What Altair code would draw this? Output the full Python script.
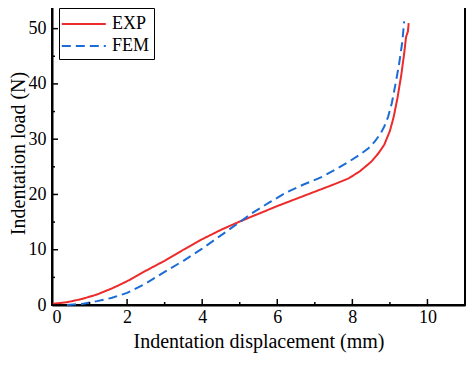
import altair as alt
import pandas as pd

# ---- data ----
exp_x = [0.0, 0.4, 0.8, 1.2, 1.6, 2.0, 2.5, 3.0, 3.5, 4.0, 4.5, 5.0, 5.5, 6.0, 6.5,
         7.0, 7.5, 7.9, 8.2, 8.5, 8.7, 8.85, 9.0, 9.1, 9.2, 9.3, 9.38, 9.43, 9.48, 9.5]
exp_y = [0.2, 0.5, 1.1, 1.9, 3.0, 4.3, 6.2, 8.0, 10.0, 11.9, 13.6, 15.1, 16.5, 17.9, 19.2,
         20.5, 21.8, 22.9, 24.2, 25.9, 27.5, 29.0, 31.5, 34.0, 37.4, 41.5, 45.5, 48.5, 49.5, 51.0]

fem_x = [0.4, 0.8, 1.2, 1.6, 2.0, 2.5, 3.0, 3.5, 4.0, 4.5, 5.0, 5.3, 5.8, 6.25, 6.7,
         7.2, 7.6, 7.9, 8.2, 8.42, 8.6, 8.75, 8.85, 8.95, 9.05, 9.15, 9.24, 9.33, 9.38]
fem_y = [0.0, 0.2, 0.7, 1.3, 2.2, 3.9, 6.0, 8.0, 10.2, 12.6, 15.0, 16.5, 18.6, 20.4, 21.8,
         23.2, 24.7, 25.9, 27.2, 28.3, 29.6, 31.0, 32.3, 34.0, 36.5, 40.0, 43.4, 47.6, 51.3]

series_names = ["EXP", "FEM"]
series_colors = ["#ED2B2B", "#1C6CD6"]

x_major = [0, 2, 4, 6, 8, 10]
x_minor = [1, 3, 5, 7, 9]
y_major = [0, 10, 20, 30, 40, 50]
y_minor = [5, 15, 25, 35, 45]

W, H = 413, 304
FONT = "Times New Roman, Liberation Serif, serif"

df = pd.DataFrame({
    "x": exp_x + fem_x,
    "y": exp_y + fem_y,
    "series": ["EXP"] * len(exp_x) + ["FEM"] * len(fem_x),
    "order": list(range(len(exp_x))) + list(range(len(fem_x))),
})

xscale = alt.Scale(domain=[0, 11], nice=False, zero=False)
yscale = alt.Scale(domain=[0, 55], nice=False, zero=False)

common_axis = dict(ticks=False, grid=False, domainColor="black", domainWidth=2,
                   labelFont=FONT, labelFontSize=18, labelColor="black",
                   titleFont=FONT, titleFontSize=20, titleFontWeight="normal",
                   titleColor="black")
xaxis = alt.Axis(title="Indentation displacement (mm)", values=x_major,
                 labelPadding=3, titlePadding=5, **common_axis)
yaxis = alt.Axis(title="Indentation load (N)", values=y_major,
                 labelPadding=6, titlePadding=0, **common_axis)

X = alt.X("x:Q", scale=xscale, axis=xaxis)
Y = alt.Y("y:Q", scale=yscale, axis=yaxis)

legend = alt.Legend(title=None, orient="none", legendX=7, legendY=7,
                    strokeColor="black", fillColor="white", padding=4,
                    labelFont=FONT, labelFontSize=18, labelColor="black",
                    labelOffset=25, symbolType="M-1.2,0H2.8", symbolSize=484,
                    symbolStrokeWidth=2, rowPadding=1)

lines = alt.Chart(df).mark_line(strokeWidth=2).encode(
    x=X, y=Y,
    color=alt.Color("series:N", scale=alt.Scale(domain=series_names, range=series_colors),
                    legend=legend),
    strokeDash=alt.StrokeDash("series:N",
                              scale=alt.Scale(domain=series_names, range=[[1, 0], [9, 5]]),
                              legend=legend),
    order="order:Q",
)

xmaj = alt.Chart(pd.DataFrame({"x": x_major})).mark_rule(color="black", strokeWidth=1.5).encode(
    x=X, y=alt.value(H), y2=alt.value(H - 6))
xmin = alt.Chart(pd.DataFrame({"x": x_minor})).mark_rule(color="black", strokeWidth=1.5).encode(
    x=X, y=alt.value(H), y2=alt.value(H - 3))
ymaj = alt.Chart(pd.DataFrame({"y": y_major})).mark_rule(color="black", strokeWidth=1.5).encode(
    y=Y, x=alt.value(0), x2=alt.value(6))
ymin = alt.Chart(pd.DataFrame({"y": y_minor})).mark_rule(color="black", strokeWidth=1.5).encode(
    y=Y, x=alt.value(0), x2=alt.value(3))

chart = alt.layer(lines, xmaj, xmin, ymaj, ymin).properties(
    width=W, height=H,
    autosize=alt.AutoSizeParams(type="none"),
    padding={"left": 44, "top": -7, "right": 1, "bottom": 48},
    background="white",
).configure_view(stroke="black", strokeWidth=2)

chart.save("out.html", embed_options={"renderer": "svg", "actions": False})
